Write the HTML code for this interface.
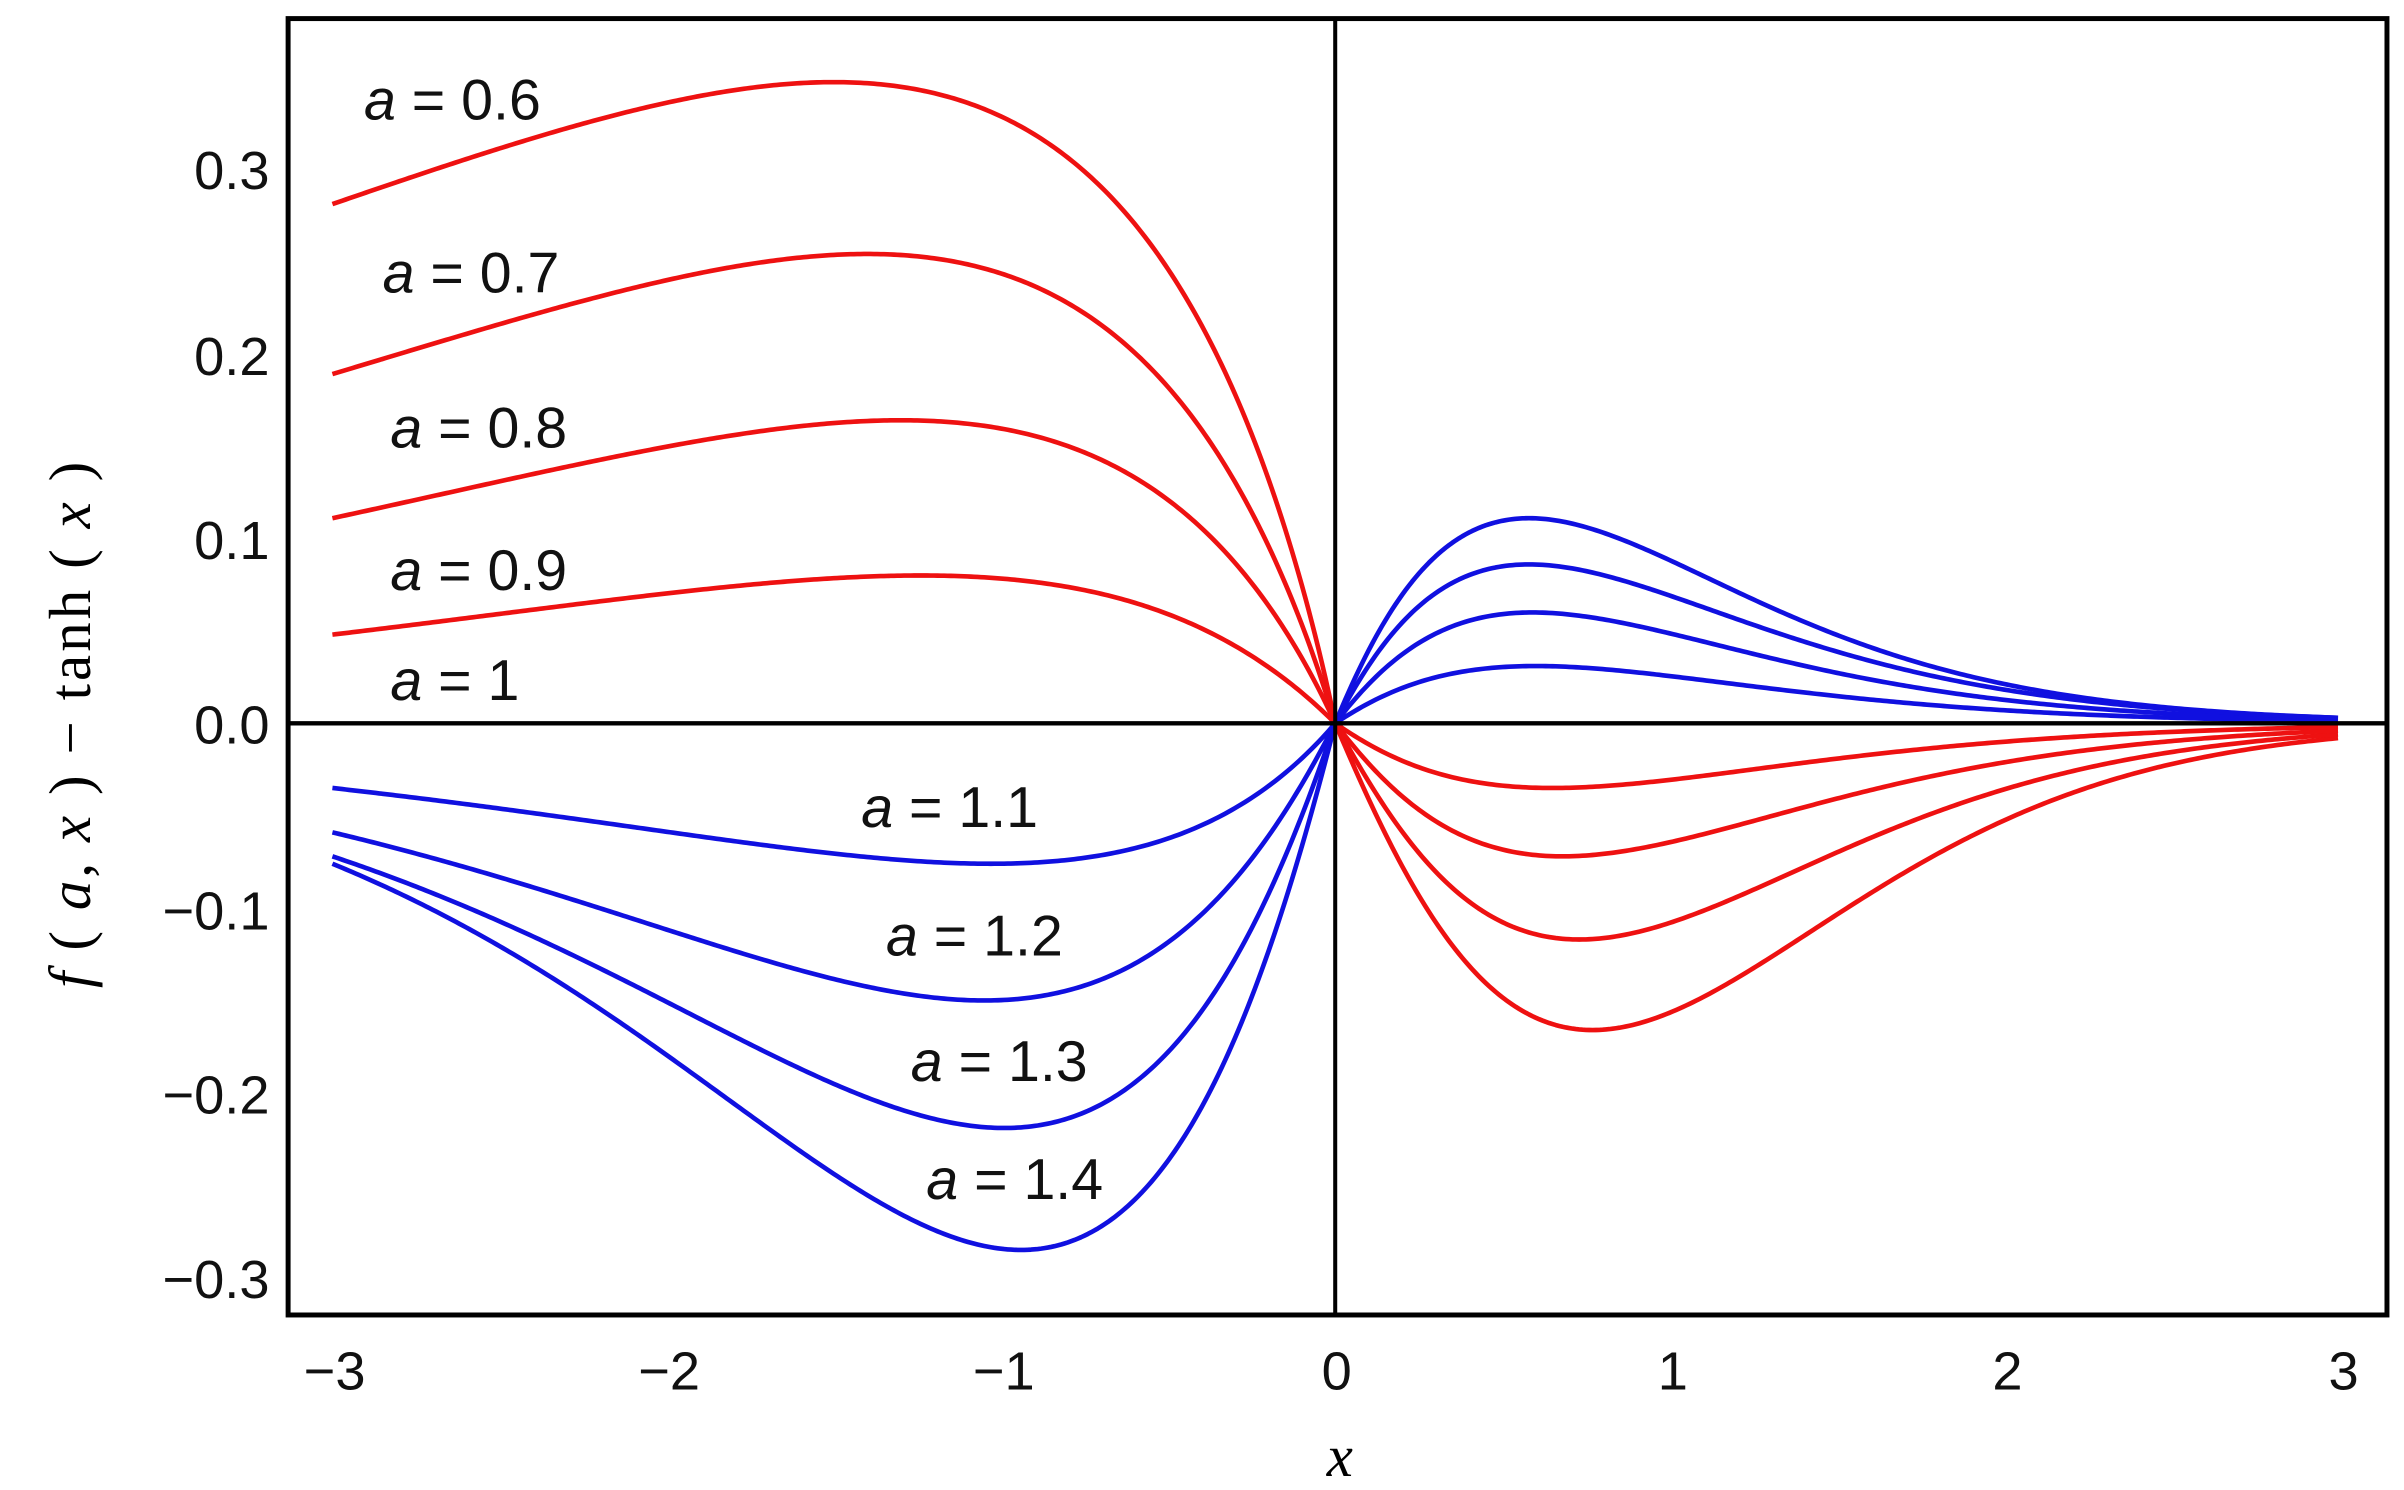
<!DOCTYPE html>
<html><head><meta charset="utf-8"><style>
html,body{margin:0;padding:0;background:#fff;}
svg{display:block;}
.t{font-family:"Liberation Sans",sans-serif;font-size:35px;fill:#111;}
.l{font-family:"Liberation Sans",sans-serif;font-size:37px;fill:#111;}
</style></head><body>
<svg id="s" width="2404" height="1490" viewBox="0 0 1552 962" preserveAspectRatio="none" xmlns="http://www.w3.org/2000/svg">
<rect x="0" y="0" width="1552" height="962" fill="#fff"/>
<g id="curves"></g>
<line x1="186" y1="467" x2="1541" y2="467" stroke="#000" stroke-width="2.8"/>
<line x1="862" y1="12" x2="862" y2="849" stroke="#000" stroke-width="2.6"/>
<rect x="186" y="12" width="1355" height="837" fill="none" stroke="#000" stroke-width="3.2"/>
<g class="t" text-anchor="end">
<text x="174" y="122">0.3</text>
<text x="174" y="242">0.2</text>
<text x="174" y="361">0.1</text>
<text x="174" y="480">0.0</text>
<text x="174" y="600">−0.1</text>
<text x="174" y="719">−0.2</text>
<text x="174" y="838">−0.3</text>
</g>
<g class="t" text-anchor="middle">
<text x="216" y="897">−3</text>
<text x="432" y="897">−2</text>
<text x="648" y="897">−1</text>
<text x="863" y="897">0</text>
<text x="1080" y="897">1</text>
<text x="1296" y="897">2</text>
<text x="1513" y="897">3</text>
</g>
<text x="865" y="953" text-anchor="middle" style="font-family:'Liberation Serif',serif;font-style:italic;font-size:38px">x</text>
<text transform="translate(58,467) rotate(-90)" text-anchor="middle" style="font-family:'Liberation Serif',serif;font-size:38px" letter-spacing="2"><tspan font-style="italic">f</tspan> ( <tspan font-style="italic">a</tspan>, <tspan font-style="italic">x</tspan> ) − tanh ( <tspan font-style="italic">x</tspan> )</text>
<g class="l">
<text x="235" y="77"><tspan font-style="italic">a</tspan> = 0.6</text>
<text x="247" y="189"><tspan font-style="italic">a</tspan> = 0.7</text>
<text x="252" y="289"><tspan font-style="italic">a</tspan> = 0.8</text>
<text x="252" y="381"><tspan font-style="italic">a</tspan> = 0.9</text>
<text x="252" y="452"><tspan font-style="italic">a</tspan> = 1</text>
<text x="556" y="534"><tspan font-style="italic">a</tspan> = 1.1</text>
<text x="572" y="617"><tspan font-style="italic">a</tspan> = 1.2</text>
<text x="588" y="698"><tspan font-style="italic">a</tspan> = 1.3</text>
<text x="598" y="774"><tspan font-style="italic">a</tspan> = 1.4</text>
</g>
</svg>
<script>
var P=[
["#ee1111",[0.347,1.5,0.281],[-0.166,0.77,-0.008]],
["#ee1111",[0.254,1.4,0.189],[-0.117,0.73,-0.006]],
["#ee1111",[0.164,1.3,0.111],[-0.072,0.68,-0.004]],
["#ee1111",[0.080,1.24,0.048],[-0.035,0.65,-0.002]],
["#1010e0",[-0.076,1.03,-0.035],[0.031,0.6,0.0012]],
["#1010e0",[-0.150,1.05,-0.059],[0.060,0.59,0.002]],
["#1010e0",[-0.219,0.99,-0.072],[0.086,0.58,0.003]],
["#1010e0",[-0.285,0.94,-0.076],[0.111,0.58,0.003]]];
function solve(tp,r){var q=3/tp,lo=0.05,hi=8;for(var i=0;i<80;i++){var p=(lo+hi)/2;var v=q*Math.exp((1-Math.pow(q,p))/p);if(v>r)lo=p;else hi=p;}return (lo+hi)/2;}
function g(t,pk,tp,p){var u=t/tp;return pk*u*Math.exp((1-Math.pow(u,p))/p);}
var X=function(x){return 862+215.8*x;},Y=function(y){return 467-1193*y;};
var out="";
P.forEach(function(c){
 var L=c[1],R=c[2];var pL=solve(L[1],L[2]/L[0]),pR=solve(R[1],R[2]/R[0]);
 var d="";var N=300;
 for(var i=N;i>=0;i--){var t=3*i/N;var y=t===0?0:g(t,L[0],L[1],pL);d+=(d?"L":"M")+X(-t).toFixed(2)+","+Y(y).toFixed(2);}
 for(var i=1;i<=N;i++){var t=3*i/N;var y=g(t,R[0],R[1],pR);d+="L"+X(t).toFixed(2)+","+Y(y).toFixed(2);}
 out+='<path d="'+d+'" fill="none" stroke="'+c[0]+'" stroke-width="3" stroke-linejoin="round"/>';
});
document.getElementById("curves").innerHTML=out;
</script>
</body></html>
